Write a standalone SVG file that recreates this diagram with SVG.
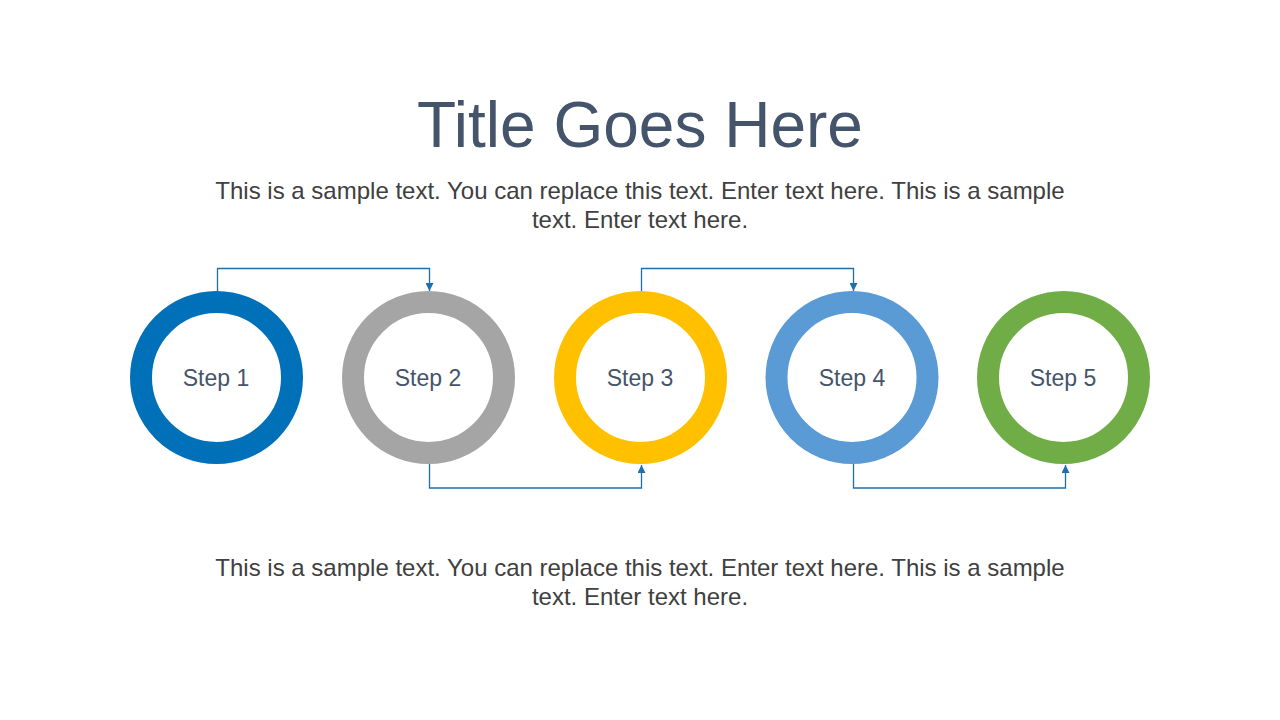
<svg xmlns="http://www.w3.org/2000/svg" width="1280" height="720" viewBox="0 0 1280 720">
<defs>
<style>
.title{font-family:"Liberation Sans",Arial,sans-serif;font-size:64px;fill:#44546A;text-anchor:middle}
.body{font-family:"Liberation Sans",Arial,sans-serif;font-size:24px;fill:#404040;text-anchor:middle}
.lbl{font-family:"Liberation Sans",Arial,sans-serif;font-size:23px;fill:#44546A;text-anchor:middle}
.ring{fill:none;stroke-width:22}
.conn{fill:none;stroke:#1F6FAA;stroke-width:1.3}
</style>
<marker id="arr" viewBox="0 0 10 10" refX="10" refY="5" markerWidth="8" markerHeight="8" markerUnits="userSpaceOnUse" orient="auto">
<path d="M0,0 L10,5 L0,10 z" fill="#1F6FAA"/>
</marker>
</defs>
<rect width="1280" height="720" fill="#FFFFFF"/>
<text class="title" x="640" y="147">Title Goes Here</text>
<text class="body" x="640" y="199">This is a sample text. You can replace this text. Enter text here. This is a sample</text>
<text class="body" x="640" y="228">text. Enter text here.</text>
<g id="connectors">
<path class="conn" d="M217.5,291 V268.5 H429.5 V291" marker-end="url(#arr)"/>
<path class="conn" d="M429.5,464 V488 H641.5 V465" marker-end="url(#arr)"/>
<path class="conn" d="M641.5,291 V268.5 H853.5 V291" marker-end="url(#arr)"/>
<path class="conn" d="M853.5,464 V488 H1065.5 V465" marker-end="url(#arr)"/>
</g>
<g id="step1"><circle class="ring" cx="216.5" cy="377.5" r="75.5" stroke="#0070B8"/><text class="lbl" x="216" y="385.5">Step 1</text></g>
<g id="step2"><circle class="ring" cx="428.5" cy="377.5" r="75.5" stroke="#A5A5A5"/><text class="lbl" x="428" y="385.5">Step 2</text></g>
<g id="step3"><circle class="ring" cx="640.5" cy="377.5" r="75.5" stroke="#FFC000"/><text class="lbl" x="640" y="385.5">Step 3</text></g>
<g id="step4"><circle class="ring" cx="852" cy="377.5" r="75.5" stroke="#5B9BD5"/><text class="lbl" x="852" y="385.5">Step 4</text></g>
<g id="step5"><circle class="ring" cx="1063.5" cy="377.5" r="75.5" stroke="#70AD47"/><text class="lbl" x="1063" y="385.5">Step 5</text></g>
<text class="body" x="640" y="576">This is a sample text. You can replace this text. Enter text here. This is a sample</text>
<text class="body" x="640" y="605">text. Enter text here.</text>
</svg>
